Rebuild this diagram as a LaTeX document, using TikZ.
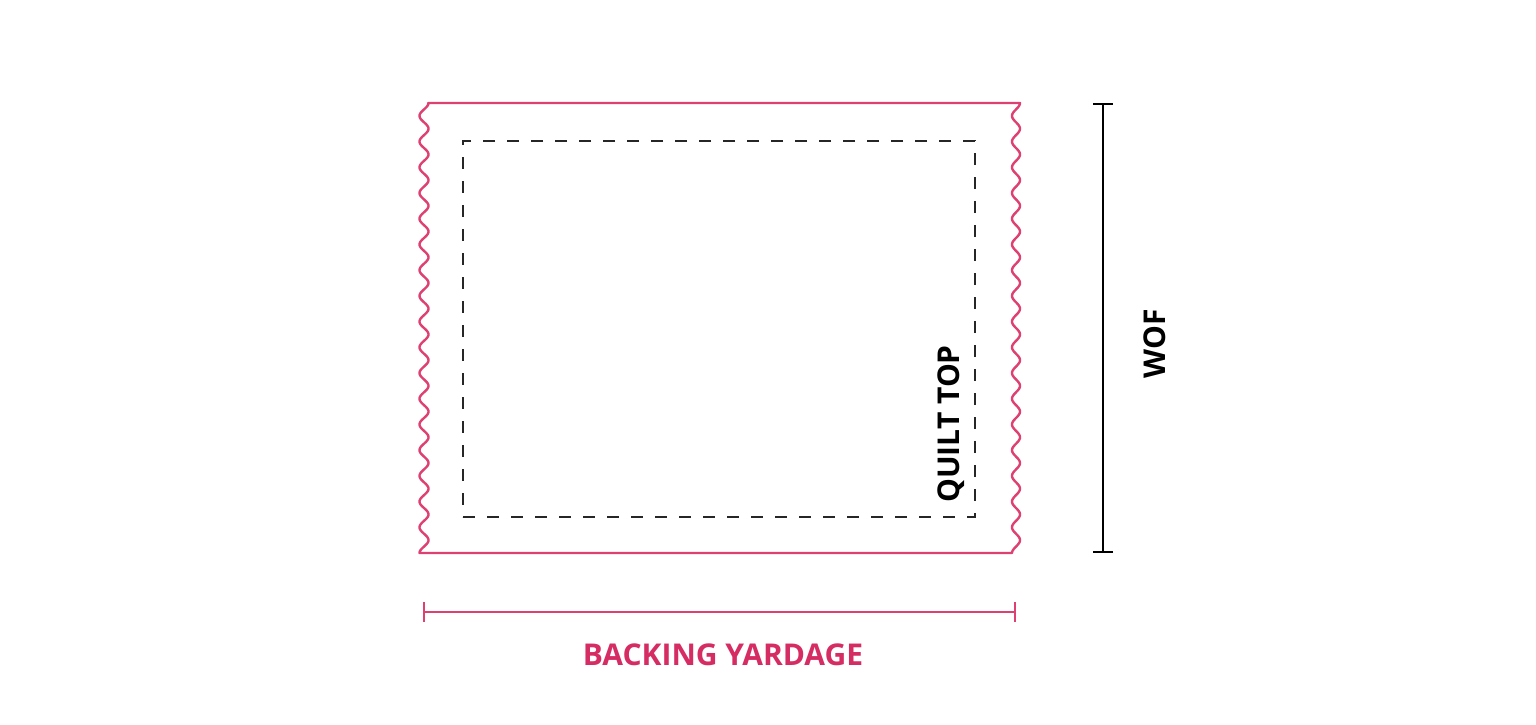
\documentclass[tikz,border=0pt]{standalone}
\usepackage{fontspec}
\setsansfont{Open Sans}
\usetikzlibrary{positioning}
\usetikzlibrary{arrows.meta}
\definecolor{fabricpink}{RGB}{222,64,114}
\definecolor{labelpink}{RGB}{214,44,100}
\tikzset{
    fabric/.style = {line width=2.4pt, draw=fabricpink, line join=round},
    seam/.style = {line width=2pt, draw=black!85, dash pattern=on 12pt off 12pt},
    dimline/.style = {line width=2pt, {Bar[width=20pt,line width=2pt]}-{Bar[width=20pt,line width=2pt]}},
    dimtext/.style = {font=\sffamily\bfseries\fontsize{30}{30}\selectfont, inner sep=0pt},
}

\begin{document}
\begin{tikzpicture}[x=1pt, y=-1pt]
  \useasboundingbox (0,0) rectangle (1536,725);
  % backing fabric with selvage edges
  \draw[fabric] (428,103) -- (1020,103)
    -- plot[domain=103:553, samples=500, smooth] ({1016+4*cos(14*(\x-103))}, \x)
    -- (419.5,553)
    -- plot[domain=553:103, samples=500, smooth] ({424+4.5*cos(14*(\x-103))}, \x)
    -- cycle;
  % quilt top
  \node[seam, minimum width=512pt, minimum height=376pt, inner sep=0pt] (quilt) at (719,329) {};
  \node[dimtext, rotate=90] (quiltlbl) at (951,424) {QUILT TOP};
  % width of fabric
  \coordinate (wofA) at (1103,103);
  \coordinate (wofB) at (1103,553);
  \draw[dimline, draw=black] (wofA) -- (wofB);
  \node[dimtext, rotate=90] (wof) at (1155,344) {WOF};
  % backing yardage
  \coordinate (yardA) at (423,612);
  \coordinate (yardB) at (1016,612);
  \draw[dimline, draw=fabricpink] (yardA) -- (yardB);
  \node[dimtext, text=labelpink] (yard) at (723,655) {BACKING YARDAGE};
\end{tikzpicture}
\end{document}
